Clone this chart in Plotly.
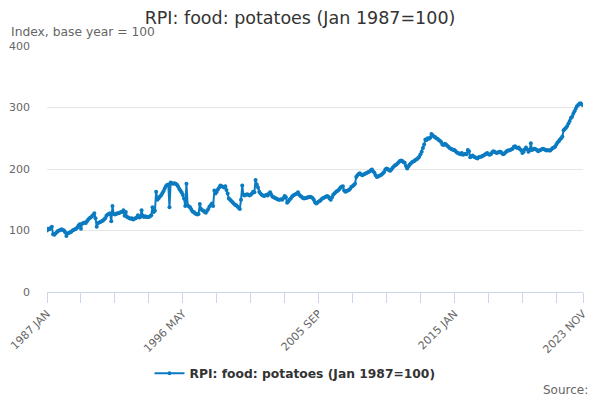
import plotly.graph_objects as go

YEARS = list(range(1987, 2024))
MONTHS = ["JAN", "FEB", "MAR", "APR", "MAY", "JUN", "JUL", "AUG", "SEP", "OCT", "NOV", "DEC"]

v1987 = [100, 103, 102, 104, 106, 94, 93, 95, 97, 99, 100, 101]
v1988 = [102, 101, 100, 97, 91, 95, 96, 97, 98, 100, 101, 102]
v1989 = [103, 105, 108, 110, 103, 111, 112, 113, 112, 115, 118, 120]
v1990 = [121, 123, 125, 128, 120, 106, 112, 113, 114, 115, 116, 118]
v1991 = [120, 124, 126, 127, 128, 115, 140, 127, 126, 127, 128, 128]
v1992 = [129, 130, 130, 133, 124, 130, 122, 121, 120, 119, 120, 118]
v1993 = [119, 120, 121, 125, 121, 122, 133, 124, 122, 123, 122, 122]
v1994 = [122, 123, 125, 138, 130, 132, 163, 150, 152, 155, 157, 160]
v1995 = [164, 168, 172, 174, 175, 138, 178, 177, 176, 177, 176, 175]
v1996 = [172, 168, 165, 162, 158, 152, 140, 176, 141, 139, 138, 134]
v1997 = [131, 130, 128, 127, 126, 127, 143, 135, 133, 132, 130, 129]
v1998 = [132, 135, 139, 141, 144, 140, 165, 160, 163, 167, 170, 173]
v1999 = [172, 171, 170, 172, 166, 160, 152, 150, 148, 146, 144, 142]
v2000 = [141, 139, 137, 135, 150, 173, 158, 157, 158, 159, 158, 157]
v2001 = [158, 160, 163, 162, 182, 175, 170, 163, 160, 158, 157, 156]
v2002 = [157, 158, 157, 160, 162, 158, 155, 154, 153, 152, 151, 150]
v2003 = [150, 151, 150, 153, 156, 154, 145, 147, 150, 152, 155, 157]
v2004 = [158, 159, 160, 162, 158, 156, 155, 153, 152, 153, 153, 154]
v2005 = [154, 155, 154, 153, 150, 146, 144, 145, 147, 148, 150, 152]
v2006 = [153, 154, 155, 156, 155, 152, 150, 154, 158, 160, 162, 164]
v2007 = [165, 167, 170, 171, 172, 165, 163, 164, 165, 166, 168, 171]
v2008 = [172, 174, 176, 187, 190, 192, 193, 191, 190, 191, 192, 193]
v2009 = [194, 195, 196, 198, 199, 196, 194, 190, 187, 188, 189, 190]
v2010 = [191, 193, 195, 199, 201, 200, 198, 197, 199, 202, 204, 206]
v2011 = [207, 209, 211, 213, 214, 213, 211, 210, 205, 201, 204, 207]
v2012 = [209, 211, 212, 213, 215, 216, 218, 220, 224, 228, 234, 240]
v2013 = [248, 247, 250, 249, 251, 257, 255, 253, 252, 250, 249, 247]
v2014 = [246, 244, 240, 239, 241, 240, 238, 236, 234, 233, 232, 231]
v2015 = [231, 229, 227, 226, 225, 224, 226, 223, 224, 225, 224, 231]
v2016 = [229, 219, 221, 222, 220, 219, 218, 217, 219, 220, 220, 221]
v2017 = [222, 223, 225, 226, 224, 223, 224, 227, 229, 228, 227, 226]
v2018 = [227, 228, 228, 226, 224, 225, 227, 229, 230, 230, 231, 232]
v2019 = [233, 236, 237, 235, 234, 235, 232, 231, 226, 228, 232, 235]
v2020 = [232, 228, 230, 242, 231, 232, 233, 232, 231, 229, 230, 231]
v2021 = [232, 233, 232, 231, 230, 231, 230, 230, 232, 234, 235, 236]
v2022 = [240, 243, 245, 248, 250, 253, 263, 265, 267, 270, 274, 278]
v2023 = [283, 285, 290, 294, 298, 302, 304, 306, 307, 305, 304]

yearly = [v1987, v1988, v1989, v1990, v1991, v1992, v1993, v1994, v1995, v1996,
          v1997, v1998, v1999, v2000, v2001, v2002, v2003, v2004, v2005, v2006,
          v2007, v2008, v2009, v2010, v2011, v2012, v2013, v2014, v2015, v2016,
          v2017, v2018, v2019, v2020, v2021, v2022, v2023]

labels = []
values = []
for yr, vals in zip(YEARS, yearly):
    for mi, v in enumerate(vals):
        labels.append(f"{yr} {MONTHS[mi]}")
        values.append(v)

n = len(labels)
tick_idx = list(range(0, n, 28)) + [n - 1]
tickvals = [labels[i] for i in tick_idx]
ticktext = [labels[i] if (i % 112 == 0 or i == n - 1) else "" for i in tick_idx]

FONT = "DejaVu Sans"
COLOR = "#0b7bc1"

fig = go.Figure()
fig.add_trace(go.Scatter(
    x=labels, y=values, mode="lines+markers",
    name="RPI: food: potatoes (Jan 1987=100)",
    line=dict(color=COLOR, width=2),
    marker=dict(color=COLOR, size=4),
))

fig.update_layout(
    width=600, height=400,
    margin=dict(l=47, r=17, t=46, b=108),
    paper_bgcolor="white", plot_bgcolor="white",
    font=dict(family=FONT, color="#666666", size=11),
    title=dict(text="RPI: food: potatoes (Jan 1987=100)", x=0.5, xanchor="center",
               y=1 - 18 / 400, yanchor="middle",
               font=dict(family=FONT, size=17.5, color="#333333")),
    showlegend=True,
    legend=dict(orientation="h", x=(295 - 47) / 536, xanchor="center", y=-0.33, yanchor="middle",
                font=dict(family=FONT, size=12.3, color="#333333", weight="bold"),
                itemwidth=30),
    xaxis=dict(type="category", range=[0, n - 1], tickmode="array",
               tickvals=tickvals, ticktext=ticktext, tickangle=-45,
               ticks="outside", ticklen=10, tickcolor="#ccd6eb",
               showline=True, linecolor="#ccd6eb", linewidth=1,
               showgrid=False, automargin=False,
               tickfont=dict(size=11, color="#666666")),
    yaxis=dict(range=[0, 400], dtick=100, showgrid=True, gridcolor="#e6e6e6",
               zeroline=False, showline=False, ticks="", automargin=False,
               ticklabelstandoff=16, tickfont=dict(size=11, color="#666666")),
    annotations=[
        dict(text="Index, base year = 100", xref="paper", yref="paper",
             x=-38 / 536, y=(292 - 32) / 246, xanchor="left", yanchor="middle",
             showarrow=False, font=dict(family=FONT, size=12.3, color="#666666")),
        dict(text="Source:", xref="paper", yref="paper",
             x=(590 - 47) / 536, y=(292 - 390) / 246, xanchor="right", yanchor="middle",
             showarrow=False, font=dict(family=FONT, size=12, color="#666666")),
    ],
)

fig.write_html("out.html", config={"displayModeBar": False},
               post_script="document.body.style.margin='0';document.body.style.overflow='hidden';")
